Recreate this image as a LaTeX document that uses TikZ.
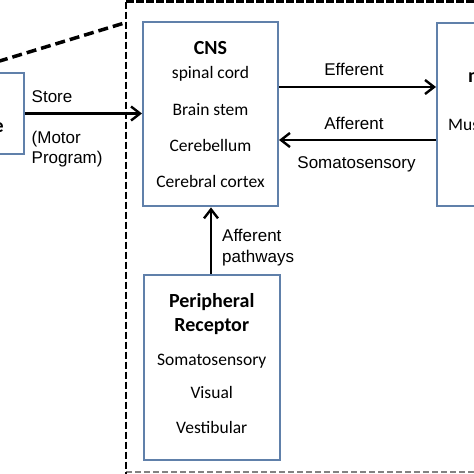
\documentclass[tikz,border=0pt]{standalone}
\usepackage{fontspec}
\setmainfont{Carlito}
\newfontfamily\labfont{Liberation Sans}
\usetikzlibrary{arrows.meta}
\definecolor{boxblue}{RGB}{96,128,170}
\definecolor{dashgrey}{RGB}{130,130,130}
\tikzset{
  box/.style={draw=boxblue, line width=2pt, rectangle, inner sep=0pt},
  arr/.style={line width=2.6pt, -{Straight Barb[length=9pt,width=14pt,line width=2.4pt]}},
  boxtxt/.style={anchor=base, inner sep=0pt, font=\fontsize{17.5}{21}\selectfont},
  boxhead/.style={anchor=base, inner sep=0pt, font=\fontsize{20}{24}\selectfont\bfseries},
  lab/.style={anchor=base, inner sep=0pt, font=\labfont\fontsize{17}{20}\selectfont},
  labw/.style={anchor=base west, inner sep=0pt, font=\labfont\fontsize{17}{20}\selectfont}
}
\begin{document}
\begin{tikzpicture}[x=1pt,y=-1pt]
\useasboundingbox (0,0) rectangle (474,474);
\clip (0,0) rectangle (474,474);

% dashed frame
\coordinate (ftl) at (126,1.5);
\coordinate (ftr) at (480,1.5);
\coordinate (fbl) at (126,472);
\coordinate (fbr) at (480,472);
\coordinate (fbot) at (126,476);
\draw[line width=3.5pt, dash pattern=on 8pt off 2pt] (ftl) -- (ftr);
\draw[line width=2pt, dashgrey, dash pattern=on 6pt off 3pt] (fbl) -- (fbr);
\draw[line width=2pt, dash pattern=on 7pt off 3pt] (ftl) -- (fbot);

% diagonal zoom line
\coordinate (d0) at (-2,61.5);
\coordinate (d1) at (126,22.5);
\draw[line width=3.5pt, dash pattern=on 10pt off 5pt] (d0) -- (d1);

% boxes
\node[box, minimum width=84pt, minimum height=81pt] (lbox) at (-18,113.5) {};
\node[box, minimum width=135pt, minimum height=184pt] (cns) at (210.5,114.4) {};
\node[box, minimum width=100pt, minimum height=183pt] (rbox) at (487,114) {};
\node[box, minimum width=135.5pt, minimum height=185pt] (per) at (211.75,367.5) {};

% left box text (cut off at the picture's edge, as in the reference)
\node[boxhead, anchor=base east] (ltxt) at (4,132) {e};

% CNS text
\node[boxhead] (cnsh) at (210.5,54) {CNS};
\node[boxtxt] (c1) at (210.5,78.5) {spinal cord};
\node[boxtxt] (c2) at (210.5,115) {Brain stem};
\node[boxtxt] (c3) at (210.5,151) {Cerebellum};
\node[boxtxt] (c4) at (210.5,187) {Cerebral cortex};

% right box text (cut off at the picture's edge, as in the reference)
\node[boxhead, anchor=base west] (rh) at (468,82) {m};
\node[boxtxt, anchor=base west] (r1) at (448,130) {Muscles};

% peripheral text
\node[boxhead] (p1) at (211.75,307.5) {Peripheral};
\node[boxhead] (p2) at (211.75,331) {Receptor};
\node[boxtxt] (p3) at (211.75,365) {Somatosensory};
\node[boxtxt] (p4) at (211.75,398) {Visual};
\node[boxtxt] (p5) at (211.75,433) {Vestibular};

% arrows
\draw[arr] (lbox.east) -- (lbox.east -| cns.west);
\draw[arr] (cns.east |- 0,87) -- (rbox.west |- 0,87);
\draw[arr] (rbox.west |- 0,140) -- (cns.east |- 0,140);
\draw[arr] (per.north -| 211,0) -- (cns.south -| 211,0);

% labels
\node[labw] (st) at (31.5,102) {Store};
\node[labw] (mp1) at (31.5,143) {(Motor};
\node[labw] (mp2) at (31.5,163.5) {Program)};
\node[lab] (eff) at (354,75) {Efferent};
\node[lab] (aff) at (354,129.5) {Afferent};
\node[lab] (som) at (356.5,168.5) {Somatosensory};
\node[labw] (ap1) at (222,241.5) {Afferent};
\node[labw] (ap2) at (222,262) {pathways};
\end{tikzpicture}
\end{document}
